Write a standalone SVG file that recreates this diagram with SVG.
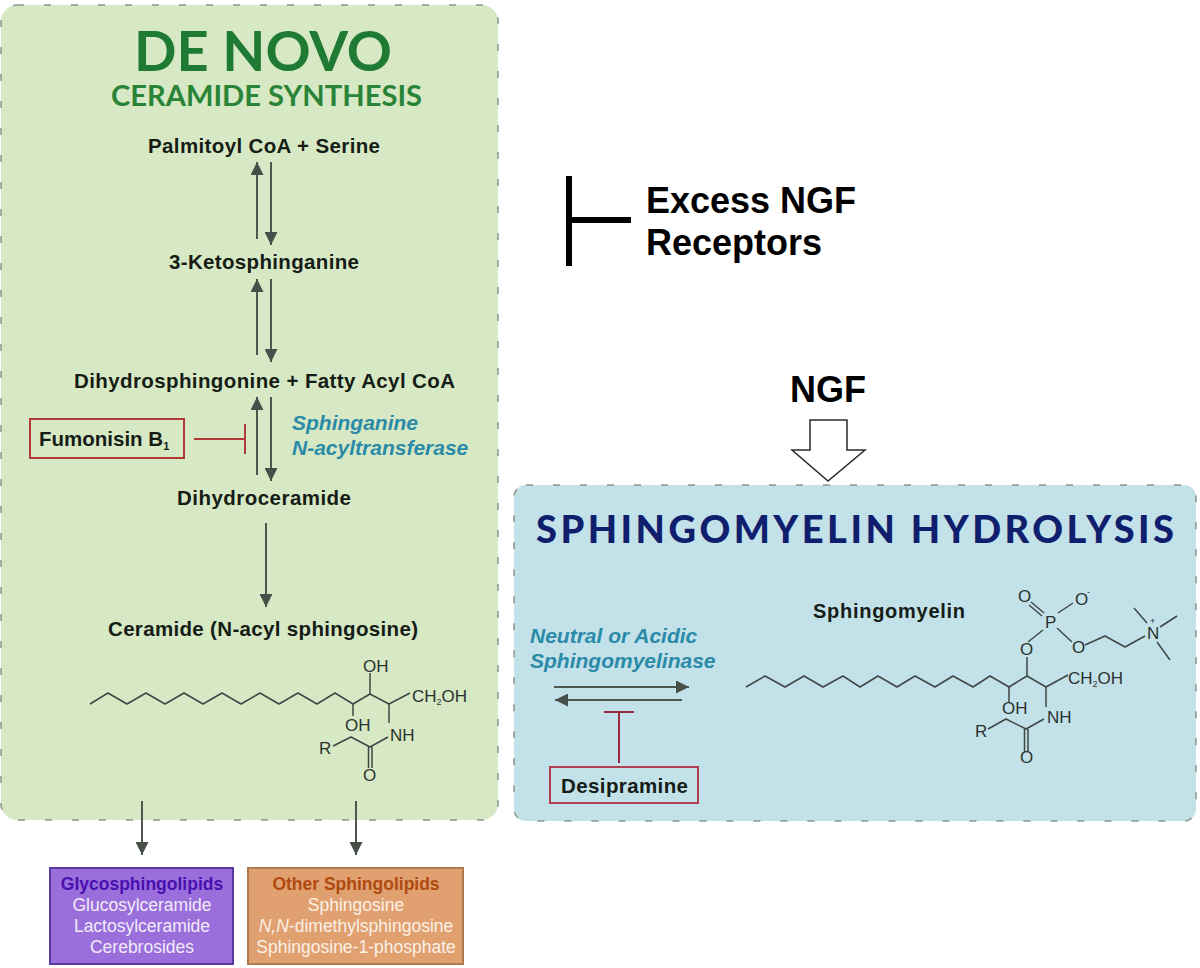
<svg xmlns="http://www.w3.org/2000/svg" width="1200" height="968" viewBox="0 0 1200 968">
<style>
text{font-family:"Liberation Sans",Arial,sans-serif;fill:#161c16}
.b{font-weight:700;font-size:20.500px}
.t{font-family:Lato,"Liberation Sans",sans-serif;font-weight:700}
.enz{font-weight:700;font-style:italic;font-size:21px;fill:#2a8aa8}
.big{font-weight:700;font-size:36px;fill:#000}
.chem{font-size:17px;fill:#2b322e}
.bond{fill:none;stroke:#3f4744;stroke-width:1.5;stroke-linejoin:round}
.arr{fill:none;stroke:#4e5650;stroke-width:2;marker-end:url(#ah)}
.inh{fill:none;stroke:#b23a34;stroke-width:2}
.sm{font-size:17.500px;text-anchor:middle;fill:#f1ebf7}
.panel{stroke:#8b968c;stroke-width:1.5;stroke-dasharray:7 20}
</style>
<defs>
<marker id="ah" markerUnits="userSpaceOnUse" markerWidth="15" markerHeight="13" refX="13" refY="6.5" orient="auto"><path d="M0 0L13 6.5L0 13Z" fill="#474f49"/></marker>
</defs>
<rect width="1200" height="968" fill="#fff"/>

<g id="panel-denovo">
<rect class="panel" x="1" y="5" width="497" height="815" rx="16" fill="#d6e9c4"/>
<text class="t" x="134" y="71" font-size="56" textLength="258" lengthAdjust="spacingAndGlyphs" style="fill:#1f7a33">DE NOVO</text>
<text class="t" x="111" y="106" font-size="28" textLength="311" lengthAdjust="spacingAndGlyphs" style="fill:#2a8438">CERAMIDE SYNTHESIS</text>
</g>
<g id="panel-hydrolysis">
<rect class="panel" x="514" y="485" width="682" height="336" rx="12" fill="#c3e1e9"/>
<text class="t" x="536" y="543" font-size="38" textLength="638" style="fill:#0f1f6e;font-weight:900">SPHINGOMYELIN HYDROLYSIS</text>
</g>

<g id="connectors">
<path class="arr" d="M257 239V162"/><path class="arr" d="M271 162V245"/>
<path class="arr" d="M257 355V279"/><path class="arr" d="M271 279V362"/>
<path class="arr" d="M257 475V397"/><path class="arr" d="M271 397V481"/>
<path class="arr" d="M266 523V607"/>
<path class="arr" d="M142 801V855"/><path class="arr" d="M356 801V855"/>
<path class="arr" d="M554 687H689"/><path class="arr" d="M682 700H555"/>
<path class="inh" d="M194 439H245M245 424V454"/>
<path fill="none" stroke="#9a2a40" stroke-width="2" d="M619 763V712M604 712H634"/>
<path fill="none" stroke="#000" stroke-width="6" d="M569 176V266M569 220H631"/>
<path fill="#fff" stroke="#2a2a2a" stroke-width="1.5" d="M810 420H847V450H865L828 481L792 450H810Z"/>
</g>

<g id="node-palmitoyl"><text class="b" x="148" y="153" textLength="232">Palmitoyl CoA + Serine</text></g>
<g id="node-keto"><text class="b" x="169" y="269" textLength="190">3-Ketosphinganine</text></g>
<g id="node-dihydrosphingonine"><text class="b" x="74" y="388" textLength="381">Dihydrosphingonine + Fatty Acyl CoA</text></g>
<g id="node-dihydroceramide"><text class="b" x="177" y="505" textLength="174">Dihydroceramide</text></g>
<g id="node-ceramide"><text class="b" x="108" y="636" textLength="310">Ceramide (N-acyl sphingosine)</text></g>
<g id="node-transferase">
<text class="enz" x="292" y="430">Sphinganine</text>
<text class="enz" x="292" y="455">N-acyltransferase</text>
</g>
<g id="node-fumonisin">
<rect x="30" y="419" width="154" height="39" fill="none" stroke="#b23a34" stroke-width="2"/>
<text class="b" x="39" y="446">Fumonisin B<tspan font-size="11" dy="4">1</tspan></text>
</g>

<g id="node-ceramide-structure">
<path class="bond" d="M90 704L108 693L127 704L146 693L165 704L184 693L203 704L222 693L241 704L260 693L279 704L298 693L317 704L335 693L353 704L370 694L389 704L410 693"/>
<path class="bond" d="M370 694V673M353 704V716M389 704V723M333 746L351 737L370 747L388 737M368.500 747V768M372 747V768"/>
<text class="chem" x="363" y="672">OH</text>
<text class="chem" x="345" y="731">OH</text>
<text class="chem" x="390" y="741">NH</text>
<text class="chem" x="319" y="754">R</text>
<text class="chem" x="363" y="781">O</text>
<text class="chem" x="412" y="702">CH<tspan font-size="9" dy="3">2</tspan><tspan dy="-3">OH</tspan></text>
</g>

<g id="node-glyco">
<rect x="50" y="868" width="183" height="96" fill="#9a6fdc" stroke="#5b3a9f" stroke-width="2"/>
<text class="sm" x="142" y="890" style="font-weight:700;fill:#4a10b0">Glycosphingolipids</text>
<text class="sm" x="142" y="911">Glucosylceramide</text>
<text class="sm" x="142" y="932">Lactosylceramide</text>
<text class="sm" x="142" y="953">Cerebrosides</text>
</g>
<g id="node-other">
<rect x="248" y="868" width="215" height="96" fill="#e0a070" stroke="#b07a50" stroke-width="2"/>
<text class="sm" x="356" y="890" style="font-weight:700;fill:#b04a10">Other Sphingolipids</text>
<text class="sm" x="356" y="911" style="fill:#fbf0e6">Sphingosine</text>
<text class="sm" x="356" y="932" style="fill:#fbf0e6"><tspan font-style="italic">N,N</tspan>-dimethylsphingosine</text>
<text class="sm" x="356" y="953" style="fill:#fbf0e6">Sphingosine-1-phosphate</text>
</g>

<g id="node-receptors">
<text class="big" x="646" y="213">Excess NGF</text>
<text class="big" x="646" y="255">Receptors</text>
</g>
<g id="node-ngf"><text class="big" x="790" y="402">NGF</text></g>

<g id="node-sphingomyelinase">
<text class="enz" x="530" y="643">Neutral or Acidic</text>
<text class="enz" x="530" y="668">Sphingomyelinase</text>
</g>
<g id="node-desipramine">
<rect x="550" y="767" width="148" height="36" fill="none" stroke="#b04050" stroke-width="2"/>
<text class="b" x="561" y="793" textLength="127">Desipramine</text>
</g>
<g id="node-sphingomyelin">
<text class="b" x="813" y="618" textLength="152" style="font-size:20px">Sphingomyelin</text>
<path class="bond" d="M746 687L765 676L785 687L804 676L823 687L843 676L860 687L878 676L897 687L915 676L935 687L953 676L973 687L990 676L1009 687L1027 676L1046 687L1068 675"/>
<path class="bond" d="M1009 687V702M1046 687V707M988 729L1006 719L1026 729L1044 719M1024.500 729V752M1028 729V752M1027 676V657M1028 642L1043 630M1044 613L1031 602M1042 616L1029 605M1058 613L1073 603M1057 628L1072 642M1085 645L1105 636L1125 647L1145 636M1147 623L1134 608M1160 627L1177 616M1157 642L1170 660"/>
<text class="chem" x="1002" y="714">OH</text>
<text class="chem" x="1047" y="723">NH</text>
<text class="chem" x="975" y="737">R</text>
<text class="chem" x="1020" y="763">O</text>
<text class="chem" x="1068" y="684">CH<tspan font-size="9" dy="3">2</tspan><tspan dy="-3">OH</tspan></text>
<text class="chem" x="1020" y="655">O</text>
<text class="chem" x="1045" y="628">P</text>
<text class="chem" x="1018" y="602">O</text>
<text class="chem" x="1075" y="605">O</text>
<text class="chem" x="1087" y="595" style="font-size:9px">-</text>
<text class="chem" x="1072" y="653">O</text>
<text class="chem" x="1147" y="639">N</text>
<text class="chem" x="1150" y="624" style="font-size:9px">+</text>
</g>
</svg>
